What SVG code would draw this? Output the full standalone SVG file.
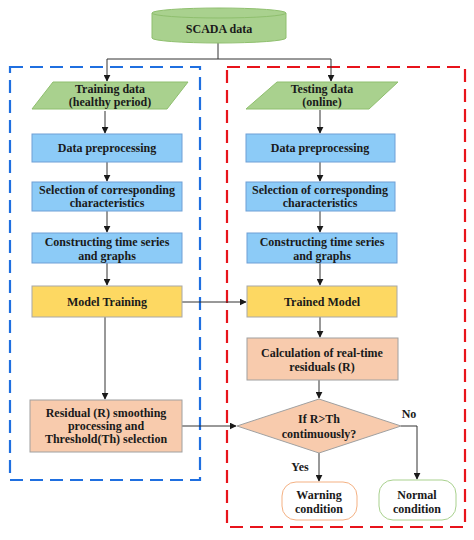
<svg xmlns="http://www.w3.org/2000/svg" width="474" height="540" viewBox="0 0 474 540">
<defs>
<marker id="arr" viewBox="0 0 10 10" refX="9" refY="5" markerWidth="7" markerHeight="7" markerUnits="userSpaceOnUse" orient="auto"><path d="M0,0 L10,5 L0,10 z" fill="#1a1a1a"/></marker>
<style>
text{font-family:"Liberation Serif","Times New Roman",serif;font-weight:bold;font-size:12px;fill:#1a1a1a;text-anchor:middle}
.green{fill:#a9d18e;stroke:#8fbf6e;stroke-width:1}
.blue{fill:#8ccbf7;stroke:#6e9fd6;stroke-width:1}
.yellow{fill:#fdd862;stroke:#a8a8a8;stroke-width:1}
.peach{fill:#f8cbad;stroke:#a0a0a0;stroke-width:1}
.conn{fill:none;stroke:#333;stroke-width:1}
</style>
</defs>
<rect width="474" height="540" fill="#ffffff"/>
<g id="containers">
<rect x="10" y="67" width="190" height="413" fill="none" stroke="#1f6fe0" stroke-width="2.2" stroke-dasharray="13,7"/>
<rect x="227" y="67" width="238" height="460" fill="none" stroke="#e8131b" stroke-width="2.2" stroke-dasharray="13,7"/>
</g>
<g id="connectors">
<path class="conn" d="M218,43 V59"/>
<path class="conn" d="M107,59 H331"/>
<path class="conn" d="M107,59 V81" marker-end="url(#arr)"/>
<path class="conn" d="M331,59 V81" marker-end="url(#arr)"/>
<path class="conn" d="M105,111 V133" marker-end="url(#arr)"/>
<path class="conn" d="M107,162 V181" marker-end="url(#arr)"/>
<path class="conn" d="M107,211 V232" marker-end="url(#arr)"/>
<path class="conn" d="M107,263 V285" marker-end="url(#arr)"/>
<path class="conn" d="M182,302 H246" marker-end="url(#arr)"/>
<path class="conn" d="M105,317 V399" marker-end="url(#arr)"/>
<path class="conn" d="M182,426 H236" marker-end="url(#arr)"/>
<path class="conn" d="M320,110 V133" marker-end="url(#arr)"/>
<path class="conn" d="M320,162 V181" marker-end="url(#arr)"/>
<path class="conn" d="M320,211 V232" marker-end="url(#arr)"/>
<path class="conn" d="M320,263 V285" marker-end="url(#arr)"/>
<path class="conn" d="M320,317 V337" marker-end="url(#arr)"/>
<path class="conn" d="M319,380 V398" marker-end="url(#arr)"/>
<path class="conn" d="M319,453 V481" marker-end="url(#arr)"/>
<path class="conn" d="M401,426 H417 V479" marker-end="url(#arr)"/>
</g>
<g id="scada">
<path class="green" d="M152,13 V38 A67,5 0 0 0 286,38 V13"/>
<ellipse class="green" cx="219" cy="13" rx="67" ry="5"/>
<text x="219" y="33">SCADA data</text>
</g>
<g id="training-data">
<polygon class="green" points="53,82 188,82 167,109 32,109"/>
<text x="110" y="93">Training data</text>
<text x="110" y="106">(healthy period)</text>
</g>
<g id="testing-data">
<polygon class="green" points="277,82 398,82 369,109 246,109"/>
<text x="322" y="93">Testing data</text>
<text x="322" y="106">(online)</text>
</g>
<g id="prep-left"><rect class="blue" x="32" y="134" width="150" height="28"/><text x="107" y="152">Data preprocessing</text></g>
<g id="sel-left"><rect class="blue" x="32" y="182" width="150" height="29"/><text x="107" y="194">Selection of corresponding</text><text x="107" y="207">characteristics</text></g>
<g id="cons-left"><rect class="blue" x="32" y="233" width="150" height="30"/><text x="107" y="246">Constructing time series</text><text x="107" y="260">and graphs</text></g>
<g id="model-training"><rect class="yellow" x="32" y="286" width="150" height="31"/><text x="107" y="306">Model Training</text></g>
<g id="residual"><rect class="peach" x="30" y="400" width="152" height="52"/><text x="106" y="417">Residual (R) smoothing</text><text x="106" y="430">processing and</text><text x="106" y="443">Threshold(Th) selection</text></g>
<g id="prep-right"><rect class="blue" x="246" y="134" width="149" height="28"/><text x="320" y="152">Data preprocessing</text></g>
<g id="sel-right"><rect class="blue" x="246" y="182" width="149" height="29"/><text x="320" y="194">Selection of corresponding</text><text x="320" y="207">characteristics</text></g>
<g id="cons-right"><rect class="blue" x="247" y="233" width="150" height="30"/><text x="322" y="246">Constructing time series</text><text x="322" y="260">and graphs</text></g>
<g id="trained-model"><rect class="yellow" x="247" y="286" width="150" height="31"/><text x="322" y="306">Trained Model</text></g>
<g id="calc"><rect class="peach" x="247" y="338" width="151" height="42"/><text x="322" y="357">Calculation of real-time</text><text x="322" y="371">residuals (R)</text></g>
<g id="decision"><polygon class="peach" points="319,399 401,426 319,453 237,426"/><text x="319" y="423">If R&gt;Th</text><text x="319" y="438">contimuously?</text></g>
<g id="labels"><text x="409" y="418">No</text><text x="300" y="471">Yes</text></g>
<g id="warning"><rect x="282" y="482" width="75" height="38" rx="14" fill="#fff" stroke="#f4b183" stroke-width="1"/><text x="319" y="499">Warning</text><text x="319" y="513">condition</text></g>
<g id="normal"><rect x="379" y="480" width="77" height="40" rx="14" fill="#fff" stroke="#a9d18e" stroke-width="1"/><text x="417" y="499">Normal</text><text x="417" y="513">condition</text></g>
</svg>
